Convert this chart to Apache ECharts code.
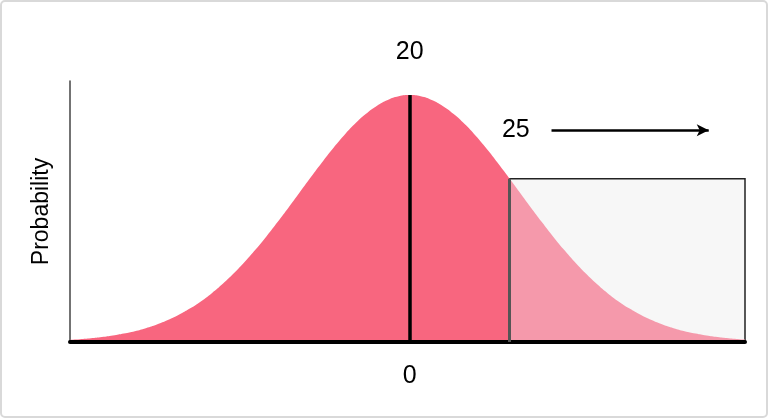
<!DOCTYPE html>
<html><head><meta charset="utf-8">
<script src="https://cdn.jsdelivr.net/npm/echarts@6/dist/echarts.min.js"></script>
<style>html,body{margin:0;padding:0;background:#fff}#c{width:768px;height:418px}</style>
</head><body><div id="c"></div>
<script>
// x positions in standard deviations from the mean, y = relative probability (peak = 1)
const bodyX = [-3.09,-3,-2.9,-2.8,-2.7,-2.6,-2.5,-2.4,-2.3,-2.2,-2.1,-2,-1.9,-1.8,-1.7,-1.6,-1.5,-1.4,-1.3,-1.2,-1.1,-1,-0.9,-0.8,-0.7,-0.6,-0.5,-0.4,-0.3,-0.2,-0.1,0,0.1,0.2,0.3,0.4,0.5,0.6,0.7,0.8,0.91];
const bodyY = [0.0085,0.0111,0.0149,0.0198,0.0261,0.034,0.0439,0.0561,0.0710,0.0889,0.1103,0.1353,0.1643,0.1979,0.2357,0.2780,0.3247,0.3753,0.4296,0.4868,0.5461,0.6065,0.6670,0.7261,0.7827,0.8353,0.8825,0.9231,0.9560,0.9802,0.9950,1,0.9950,0.9802,0.9560,0.9231,0.8825,0.8353,0.7827,0.7261,0.661];
const tailX = [0.91,1,1.1,1.2,1.3,1.4,1.5,1.6,1.7,1.8,1.9,2,2.1,2.2,2.3,2.4,2.5,2.6,2.7,2.8,2.9,3,3.05];
const tailY = [0.661,0.6065,0.5461,0.4868,0.4296,0.3753,0.3247,0.2780,0.2357,0.1979,0.1643,0.1353,0.1103,0.0889,0.0710,0.0561,0.0439,0.034,0.0261,0.0198,0.0149,0.0111,0.0095];
const meanX = 0, meanLabel = '20', cutX = 0.91, cutLabel = '25';
const xTicks = [0];
const tickText = ['0'];
const yName = 'Probability';

const chart = echarts.init(document.getElementById('c'), null, {renderer:'canvas'});
const font = 'Liberation Sans, Arial, sans-serif';
const border = {type:'rect',shape:{x:1,y:1,width:766,height:416,r:4},style:{fill:'none',stroke:'#d9d9d9',lineWidth:2},silent:true};
const option = {
  animation:false,
  grid:{left:70,right:23,top:81,bottom:76},
  xAxis:{type:'value',min:-3.09,max:3.05,z:10,splitLine:{show:false},axisTick:{show:false},
    axisLine:{lineStyle:{color:'#000',width:4}},
    axisLabel:{customValues:xTicks,formatter:v=>tickText[xTicks.indexOf(v)] ?? '',fontSize:25,color:'#000',fontFamily:font,margin:22}},
  yAxis:{type:'value',min:0,max:1.057,splitLine:{show:false},axisTick:{show:false},axisLabel:{show:false},
    axisLine:{show:true,onZero:false,lineStyle:{color:'#444',width:1.5}},
    name:yName,nameLocation:'middle',nameGap:17,nameRotate:90,
    nameTextStyle:{fontSize:23,color:'#000',fontFamily:font}},
  series:[
    {type:'line',z:2,smooth:true,symbol:'none',lineStyle:{width:0},areaStyle:{color:'#f8667f',opacity:1},
      data:bodyX.map((x,i)=>[x,bodyY[i]]),
      markArea:{silent:true,itemStyle:{color:'#f7f7f7',borderColor:'#222',borderWidth:1.5},
        data:[[{coord:[cutX,0]},{coord:[tailX[tailX.length-1],tailY[0]]}]]}
    },
    {type:'line',z:3,smooth:true,symbol:'none',lineStyle:{width:0},areaStyle:{color:'#f599ab',opacity:1},
      data:tailX.map((x,i)=>[x,tailY[i]]),
      markLine:{silent:true,z:20,label:{show:false},
        data:[
          [{coord:[meanX,0],symbol:'none',lineStyle:{color:'#000',width:3.5,type:'solid'}},{coord:[meanX,1],symbol:'none'}],
          [{coord:[cutX,0],symbol:'none',lineStyle:{color:'#555',width:3,type:'solid'}},{coord:[cutX,tailY[0]],symbol:'none'}],
          [{coord:[1.29,0.858],symbol:'none',lineStyle:{color:'#000',width:2.5,type:'solid'}},{coord:[2.72,0.858],symbol:'arrow',symbolSize:[9,12]}]
        ]}
    }
  ],
  graphic:[border]
};
chart.setOption(option);
const p1 = chart.convertToPixel({gridIndex:0},[meanX,1.174]);
const p2 = chart.convertToPixel({gridIndex:0},[0.965,0.858]);
chart.setOption({graphic:[
  border,
  {type:'text',x:p1[0],y:p1[1],style:{text:meanLabel,fill:'#000',font:'25px '+font,align:'center',verticalAlign:'middle'}},
  {type:'text',x:p2[0],y:p2[1],style:{text:cutLabel,fill:'#000',font:'25px '+font,align:'center',verticalAlign:'middle'}}
]});
</script></body></html>
